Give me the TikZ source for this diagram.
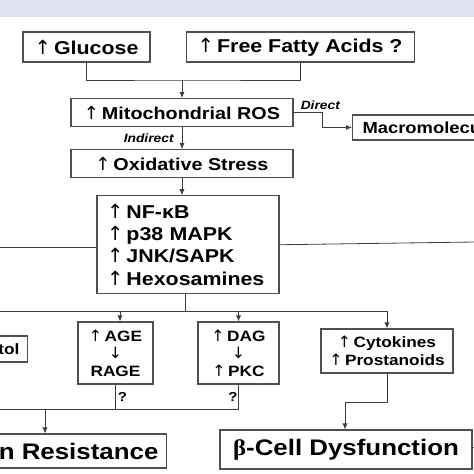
\documentclass[tikz,border=0pt]{standalone}
\usepackage{fontspec}
\setmainfont{Liberation Sans}[FakeStretch=1.15]
\newfontfamily\greekserif{Liberation Serif}[FakeStretch=1.1]
\newfontfamily\arrowfont{DejaVu Sans}[Scale=1.05]
\usepackage{xcolor}
\usepackage{tikz}
\usetikzlibrary{positioning}
\usetikzlibrary{arrows.meta}
\tikzset{>={Latex[width=5pt,length=6pt]}}
\definecolor{headband}{HTML}{DFE3F1}
\definecolor{boxgray}{HTML}{505050}
\definecolor{linegray}{HTML}{3C3C3C}
\newcommand{\incr}{{\arrowfont\mdseries ↑}\,}
\newcommand{\decr}{{\arrowfont\mdseries ↓}}

\begin{document}
\begin{tikzpicture}[x=1pt, y=-1pt, box/.style={draw=boxgray, line width=1.1pt, inner sep=2pt, text=black}, link/.style={draw=linegray, line width=0.8pt}, tag/.style={font=\fontsize{12}{14}\selectfont\bfseries\itshape, inner sep=1pt}, qmark/.style={font=\fontsize{13}{15}\selectfont\bfseries, inner sep=2pt}, topfont/.style={font=\fontsize{18.6}{21}\selectfont\bfseries}, midfont/.style={font=\fontsize{17.2}{20}\selectfont\bfseries}, smallfont/.style={font=\fontsize{15}{17.6}\selectfont\bfseries}, bigfont/.style={font=\fontsize{22.5}{26}\selectfont\bfseries}]

    \useasboundingbox (0,0) rectangle (474,474);
    \clip (0,0) rectangle (474,474);
    \fill[headband] (0,0) rectangle (474,17);

    %Nodes
    \node[box, topfont, minimum width=127pt, minimum height=30pt](glucose) at (86.5,47){\incr Glucose};
    \node[box, topfont, minimum width=228pt, minimum height=30pt](ffa)[right=35pt of glucose]{\incr Free Fatty Acids ?};
    \coordinate (join) at (182,80);
    \node[box, midfont, minimum width=222pt, minimum height=28pt](mito)[below=18pt of join]{\incr Mitochondrial ROS};
    \node[box, font=\fontsize{16}{19}\selectfont\bfseries, anchor=west, text width=130pt, align=left, inner xsep=10pt, minimum height=25pt](macro) at (352,127.5){Macromolecu};
    \node[box, midfont, minimum width=222pt, minimum height=28pt](oxid)[below=22pt of mito]{\incr Oxidative Stress};
    \node[box, font=\fontsize{18.6}{22.3}\selectfont\bfseries, text width=162pt, align=left, inner xsep=10pt, minimum height=98pt](nf)[below=17pt of oxid, xshift=6pt]{\incr NF-κB\\ \incr p38 MAPK\\ \incr JNK/SAPK\\ \incr Hexosamines};
    \node[box, smallfont, anchor=east, inner xsep=8pt, minimum height=26pt](sorb) at (28,349){tol};
    \node[box, smallfont, align=center, minimum width=75pt, minimum height=62pt](age) at (115.5,353){\incr AGE\\ \decr\\ RAGE};
    \node[box, smallfont, align=center, minimum width=81pt, minimum height=62pt](dag) at (238.5,353){\incr DAG\\ \decr\\ \incr PKC};
    \node[box, smallfont, align=center, minimum width=132pt, minimum height=44pt](cyto) at (387,351){\incr Cytokines\\ \incr Prostanoids};
    \node[box, bigfont, anchor=east, inner xsep=8pt, minimum height=34pt](insres) at (167,451){n Resistance};
    \node[box, bigfont, minimum width=252pt, minimum height=39pt](beta) at (346,449.5){{\greekserif β}-Cell Dysfunction};

    %Lines
    \draw[link] (glucose.south) |- (join) -| (ffa.south);
    \draw[link, ->] (join) -- (mito.north);
    \draw[link, ->] (mito.east) -- ++(29,0) |- (macro.west);
    \node[tag, anchor=south west](direct) at ([xshift=6pt, yshift=2pt]mito.east){Direct};
    \draw[link, ->] (mito.south) -- node[tag, left=7pt](indirect){Indirect} (oxid.north);
    \draw[link, ->] (oxid.south) -- (oxid.south |- nf.north);

    \coordinate (leftout) at (0,247);
    \coordinate (rightout) at (474,242);
    \draw[link] (leftout) -- (leftout -| nf.west);
    \draw[link] (nf.east) -- (rightout);

    \coordinate (split) at (185,311);
    \coordinate (splitleft) at (0,311);
    \draw[link] (split |- nf.south) -- (split);
    \draw[link, ->] (splitleft) -| (cyto.north);
    \draw[link, ->] ([xshift=4.5pt]age.north |- split) -- ([xshift=4.5pt]age.north);
    \draw[link, ->] (dag.north |- split) -- (dag.north);

    \coordinate (mergeleft) at (0,409);
    \coordinate (irin) at (45,409);
    \draw[link] (age.south) -- node[qmark, right](q1){?} (age.south |- mergeleft);
    \draw[link] (dag.south) -- node[qmark, left, inner xsep=0.5pt](q2){?} (dag.south |- mergeleft) -- (mergeleft);
    \draw[link, ->] (irin) -- (irin |- insres.north);

    \coordinate (bend) at (345,402);
    \coordinate (betaout) at (474,447);
    \draw[link, ->] (cyto.south) |- (bend) -- (bend |- beta.north);
    \draw[link] (betaout -| beta.east) -- (betaout);

\end{tikzpicture}
\end{document}
